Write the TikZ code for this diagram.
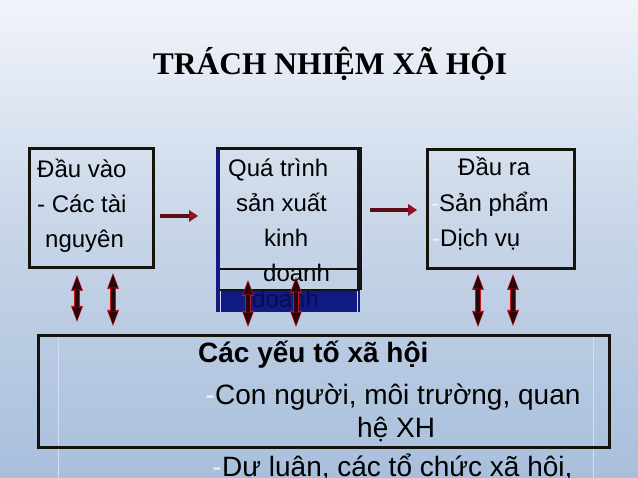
\documentclass[tikz,border=0pt]{standalone}
\usepackage{fontspec}
\setmainfont{Liberation Sans}
\newfontfamily\titlefont{Liberation Serif}
\usetikzlibrary{arrows.meta}
\definecolor{bgtop}{HTML}{F1F4FA}
\definecolor{bgmid}{HTML}{C6D4E7}
\definecolor{bgbot}{HTML}{A8BFDC}
\definecolor{maroonc}{HTML}{5E0C14}
\definecolor{headc}{HTML}{8E1220}
\definecolor{arrred}{HTML}{C0141E}
\definecolor{arrdark}{HTML}{2A060A}
\definecolor{navyb}{HTML}{101A82}
\definecolor{navytext}{HTML}{080C50}
\definecolor{boxline}{HTML}{14140C}
\definecolor{hyph}{HTML}{EEF3FA}
\begin{document}
\begin{tikzpicture}[x=1pt,y=-1pt,
  boxedge/.style={draw=boxline, line width=3pt, inner sep=0pt, anchor=north west},
  txt/.style={anchor=base west, inner sep=0pt, font=\fontsize{24}{28}\selectfont},
  btxt/.style={anchor=base west, inner sep=0pt, font=\fontsize{28}{32}\selectfont},
  flow/.style={draw=maroonc, line width=4.5pt, -{Triangle[length=9pt,width=12pt,line width=0pt,fill=headc,color=headc]}},
  dblout/.style={draw=arrred, line width=6.5pt, {Triangle[length=16pt,width=12pt,line width=0pt]}-{Triangle[length=16pt,width=12pt,line width=0pt]}},
  dblin/.style={draw=arrdark, line width=4.5pt, {Triangle[length=13pt,width=9.5pt,line width=0pt]}-{Triangle[length=13pt,width=9.5pt,line width=0pt]}, shorten <=1.6pt, shorten >=1.6pt},
  lightline/.style={draw=white!85!blue, line width=0.8pt}
]
% background
\shade[top color=bgtop, bottom color=bgbot, middle color=bgmid] (0,0) rectangle (638,478);
\useasboundingbox (0,0) rectangle (638,478);

% title
\node[anchor=base, inner sep=0pt, font=\titlefont\bfseries\fontsize{31.5}{34}\selectfont] (title) at (330,75) {TRÁCH NHIỆM XÃ HỘI};

% box 1: input
\node[boxedge, minimum width=124pt, minimum height=119pt] (in) at (28,147) {};
\node[txt] (in1) at (37,178) {Đầu vào};
\node[txt] (in2) at (37,213) {- Các tài};
\node[txt] (in3) at (45,248) {nguyên};

% box 2: process
\fill[navyb] (216,290) rectangle (360,312);
\node[anchor=base west, inner sep=0pt, font=\fontsize{24}{28}\selectfont, text=navytext] (proc5) at (252,308) {doanh};
\draw[lightline] (220,290) -- (220,312);
\draw[lightline] (357,290) -- (357,312);
\draw[boxline, line width=2pt] (218,290) -- (360,290);
\node[inner sep=0pt, minimum width=143pt, minimum height=141pt, anchor=north west] (proc) at (217,149) {};
\draw[boxline, line width=3pt] (216,149) -- (362,149);
\draw[navyb, line width=4pt] (218,149) -- (218,312);
\draw[boxline, line width=5pt] (359,150) -- (359,290);
\draw[lightline] (362.5,151) -- (362.5,269);
\node[txt] (proc1) at (228,177) {Quá trình};
\node[txt] (proc2) at (236,212) {sản xuất};
\node[txt] (proc3) at (264,247) {kinh};
\node[txt] (proc4) at (263,282) {doanh};
\draw[boxline, line width=1.2pt] (220,269) -- (362,269);

% box 3: output
\node[boxedge, minimum width=147pt, minimum height=119pt] (out) at (426,148) {};
\node[txt] (out1) at (458,176) {Đầu ra};
\node[txt] (out2) at (439,212) {Sản phẩm};
\node[txt, anchor=base east, text=hyph] (out2h) at (out2.base west) {-};
\node[txt] (out3) at (440,247) {Dịch vụ};
\node[txt, anchor=base east, text=hyph] (out3h) at (out3.base west) {-};

% bottom box: social factors
\draw[lightline] (58,334) -- (58,478);
\draw[lightline] (593,334) -- (593,478);
\node[boxedge, minimum width=571pt, minimum height=112pt] (soc) at (37,334) {};
\node[btxt, font=\bfseries\fontsize{28}{32}\selectfont] (soc1) at (198,363) {Các yếu tố xã hội};
\node[btxt] (soc2) at (215,405) {Con người, môi trường, quan};
\node[btxt, anchor=base east, text=hyph] (soc2h) at (soc2.base west) {-};
\node[btxt] (soc3) at (357,438) {hệ XH};
\node[btxt] (soc4) at (222,477) {Dự luận, các tổ chức xã hội,};
\node[btxt, anchor=base east, text=hyph] (soc4h) at (soc4.base west) {-};

% horizontal flow arrows
\coordinate (f1s) at (160,216);
\coordinate (f1e) at (198,216);
\coordinate (f2s) at (370,210);
\coordinate (f2e) at (417,210);
\draw[flow] (f1s) -- (f1e);
\draw[flow] (f2s) -- (f2e);

% double vertical arrows
\coordinate (a1t) at (77,275);  \coordinate (a1b) at (77,322);
\coordinate (a2t) at (113,273); \coordinate (a2b) at (113,326);
\coordinate (a3t) at (248,280); \coordinate (a3b) at (248,327);
\coordinate (a4t) at (296,277); \coordinate (a4b) at (296,327);
\coordinate (a5t) at (478,274); \coordinate (a5b) at (478,327);
\coordinate (a6t) at (513,274); \coordinate (a6b) at (513,326);
\foreach \i in {1,...,6}{
  \draw[dblout] (a\i t) -- (a\i b);
  \draw[dblin] (a\i t) -- (a\i b);
}
\end{tikzpicture}
\end{document}
